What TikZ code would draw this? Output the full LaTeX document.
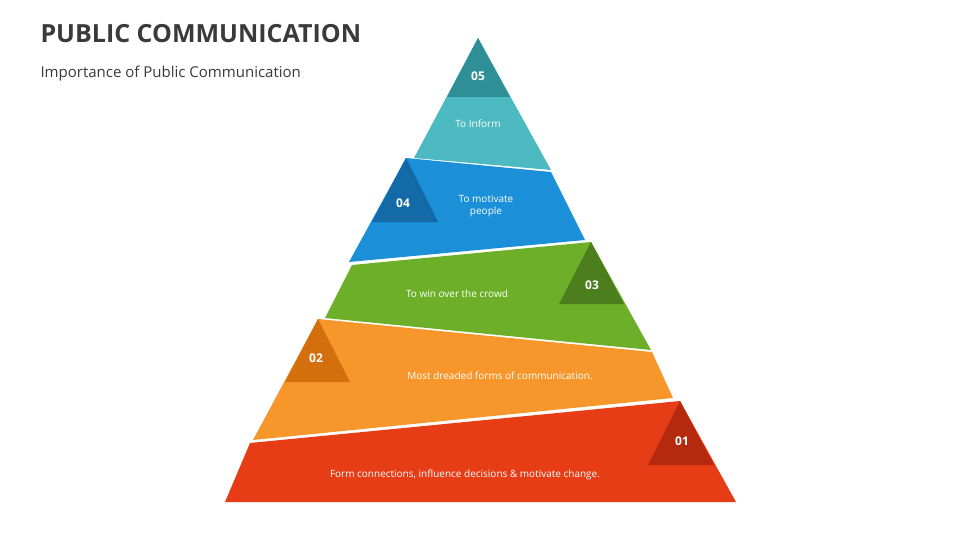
\documentclass[tikz,border=0pt]{standalone}
\usepackage{fontspec}
\setmainfont{Open Sans}
\definecolor{tealL}{HTML}{4DB9C1}\definecolor{tealD}{HTML}{2F8F97}
\definecolor{blueL}{HTML}{1C8FD9}\definecolor{blueD}{HTML}{146AA6}
\definecolor{greenL}{HTML}{6DAF29}\definecolor{greenD}{HTML}{4D7E1D}
\definecolor{orangeL}{HTML}{F7962A}\definecolor{orangeD}{HTML}{D3700D}
\definecolor{redL}{HTML}{E63D16}\definecolor{redD}{HTML}{B5290F}
\definecolor{titleC}{HTML}{3A3A3A}
\begin{document}
\begin{tikzpicture}[x=1pt,y=-1pt,
  lbl/.style={text=white,font=\fontsize{10}{12}\selectfont,align=center},
  num/.style={text=white,font=\bfseries\fontsize{12}{14}\selectfont}]
\useasboundingbox (0,0) rectangle (960,540);
% layer 5
\fill[tealL] (478,38) -- (551,170) -- (414,158) -- cycle;
\fill[tealD] (478,38) -- (510,97) -- (447,97) -- cycle;
\node[num] (n5) at (478,76) {05};
\node[lbl] (t5) at (478,124) {To Inform};
% layer 4
\fill[blueL] (406,158) -- (551,172) -- (585,240) -- (349,262) -- cycle;
\fill[blueD] (406,158) -- (438,222) -- (372,222) -- cycle;
\node[num] (n4) at (403,203) {04};
\node[lbl] (t4) at (486,206) {To motivate\\people};
% layer 3
\fill[greenL] (352,265) -- (591,242) -- (651,350) -- (325,318) -- cycle;
\fill[greenD] (591,242) -- (624,304) -- (559,304) -- cycle;
\node[num] (n3) at (592,285) {03};
\node[lbl] (t3) at (457,294) {To win over the crowd};
% layer 2
\fill[orangeL] (318,319) -- (652,352) -- (673,398) -- (253,440) -- cycle;
\fill[orangeD] (318,319) -- (350,382) -- (285,382) -- cycle;
\node[num] (n2) at (316,358) {02};
\node[lbl] (t2) at (500,376) {Most dreaded forms of communication.};
% layer 1
\fill[redL] (680,401) -- (736,502) -- (225,502) -- (250,443) -- cycle;
\fill[redD] (680,401) -- (714,465) -- (648,465) -- cycle;
\node[num] (n1) at (682,441) {01};
\node[lbl] (t1) at (465,475) {Form connections, influence decisions \& motivate change.};
% titles
\node[anchor=west,text=titleC,font=\bfseries\fontsize{25}{30}\selectfont] (title) at (37,34) {PUBLIC COMMUNICATION};
\node[anchor=west,text=titleC,font=\fontsize{15}{18}\selectfont] (sub) at (37,74) {Importance of Public Communication};
\end{tikzpicture}
\end{document}
